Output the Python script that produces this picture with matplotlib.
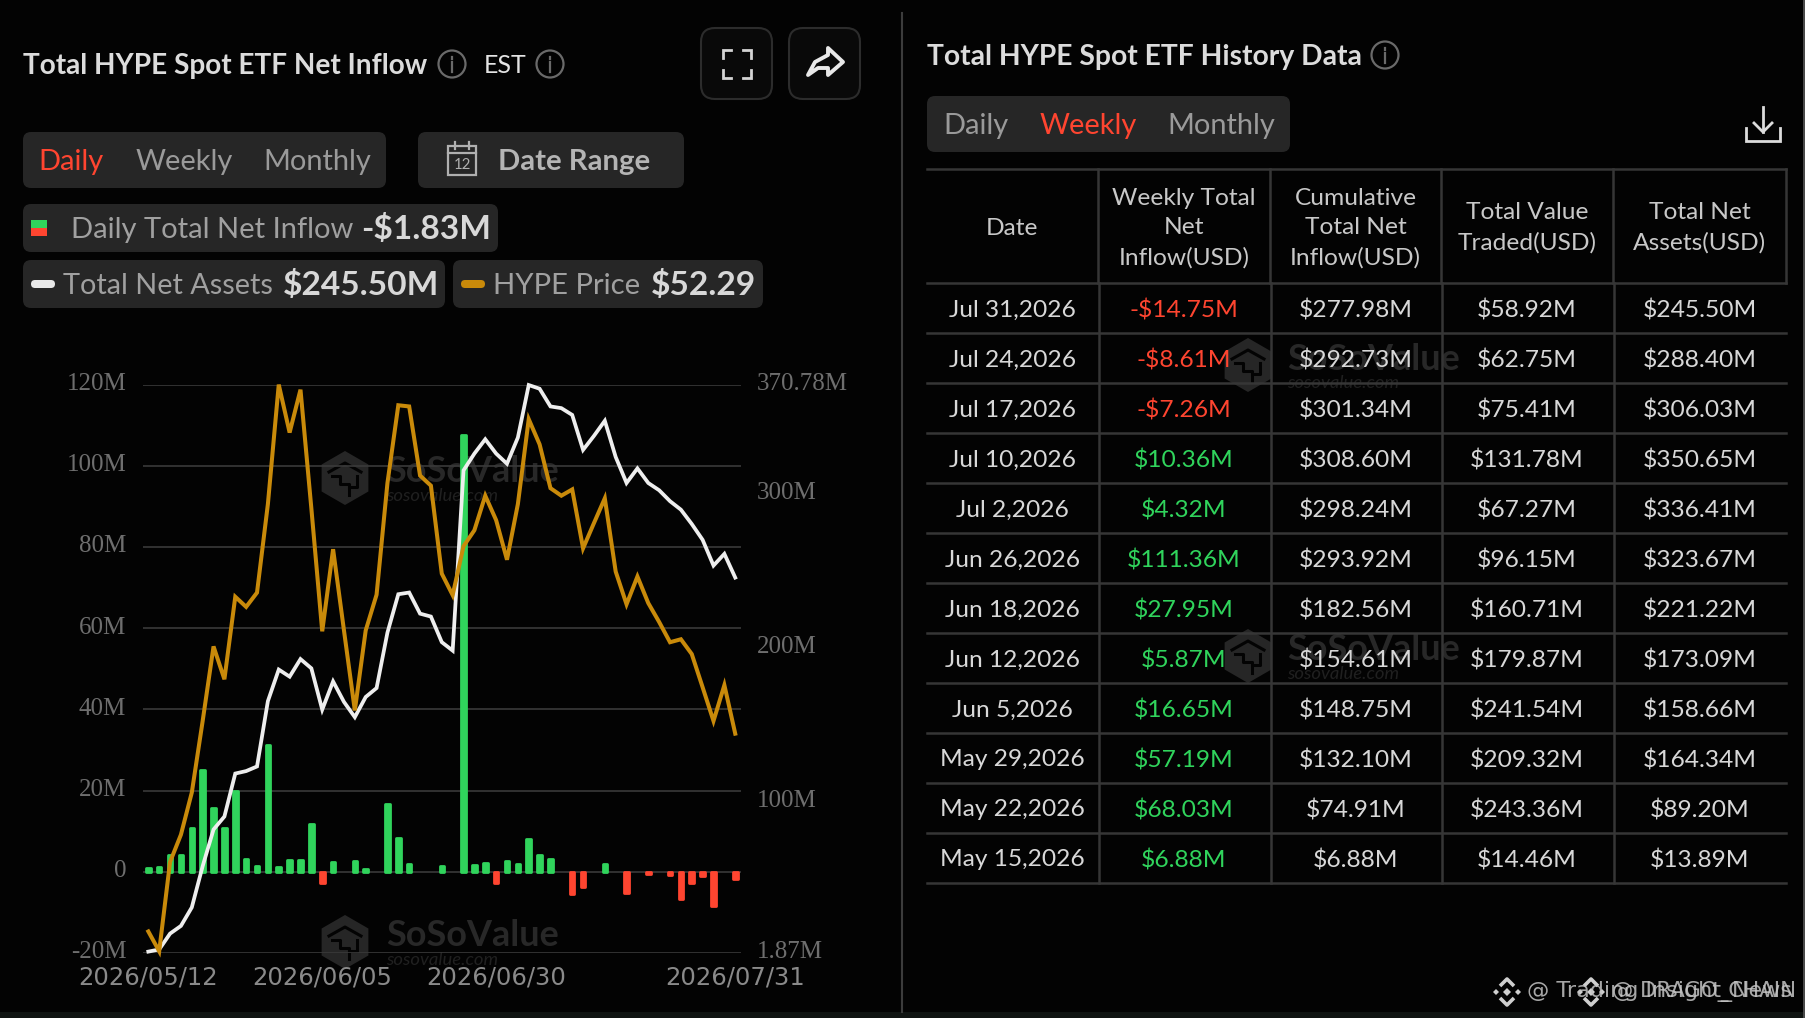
#!/usr/bin/env python3
"""HYPE spot ETF dashboard: net inflow chart plus weekly history table."""
import numpy as np
import matplotlib
matplotlib.use('Agg')
import matplotlib.pyplot as plt
from matplotlib.patches import FancyBboxPatch, Circle, Rectangle, RegularPolygon, Polygon
from matplotlib.transforms import ScaledTranslation

W, H = 1805, 1018
BG = '#030303'
PILL = '#262626'
GRID = '#3a3a3a'
GREEN = '#30d45c'
RED = '#ff4530'
ORANGE = '#c98a0a'

# ── chart data ──
net_inflow = [1.0, 1.2, 4.1, 4.2, 10.7, 25.0, 15.8, 10.7, 20.0, 3.2, 1.5, 31.1, 1.1, 3.0, 2.9, 11.8, -2.8, 2.3, 0,
              2.7, 0.6, 0, 16.7, 8.3, 1.8, 0, 0, 1.3, 0, 107.5, 1.6, 2.1, -2.8, 2.7, 1.9, 8.1, 4.1, 3.1, 0, -5.5, -3.8,
              0, 1.8, 0, -5.2, 0, -0.6, 0, -0.8, -6.7, -2.7, -1.0, -8.5, 0, -1.83]
net_assets = [2.7, 4.1, 14.4, 19.4, 31.4, 58.2, 82.0, 90.4, 118.3, 119.9, 122.9, 165.3, 185.8, 181.2, 192.6, 186.6,
              159.8, 178.1, 164.8, 154.9, 168.0, 173.8, 209.8, 234.7, 235.8, 222.1, 220.2, 203.6, 198.1, 315.1, 326.0,
              335.3, 326.0, 319.4, 336.4, 370.5, 368.1, 356.6, 355.5, 351.1, 328.4, 337.5, 347.3, 323.8, 306.9, 316.4,
              306.9, 302.2, 295.1, 289.6, 280.3, 270.0, 253.3, 260.9, 245.5]
hype_price = [27.67, 25.21, 36.32, 39.72, 44.96, 53.87, 63.15, 59.06, 69.33, 68.07, 69.85, 80.86, 95.74, 89.77, 95.11,
              80.33, 65.03, 75.25, 65.14, 55.18, 65.14, 69.59, 83.48, 93.17, 93.02, 84.42, 83.16, 72.21, 69.54, 75.62,
              77.61, 81.91, 78.87, 73.94, 80.86, 91.44, 88.30, 82.85, 81.91, 82.69, 75.36, 78.50, 81.59, 72.47, 68.39,
              71.85, 68.54, 66.19, 63.67, 64.04, 62.20, 58.06, 53.87, 58.33, 52.29]
left_ticks = [-20, 0, 20, 40, 60, 80, 100, 120]
left_labels = ['-20M', '0', '20M', '40M', '60M', '80M', '100M', '120M']
right_ticks = [1.87, 100, 200, 300, 370.78]
right_labels = ['1.87M', '100M', '200M', '300M', '370.78M']
date_ticks = [0, 16, 32, 54]
date_labels = ['2026/05/12', '2026/06/05', '2026/06/30', '2026/07/31']

# ── table data ──
headers = ['Date', 'Weekly Total\nNet\nInflow(USD)', 'Cumulative\nTotal Net\nInflow(USD)',
           'Total Value\nTraded(USD)', 'Total Net\nAssets(USD)']
week_dates = ['Jul 31,2026', 'Jul 24,2026', 'Jul 17,2026', 'Jul 10,2026', 'Jul 2,2026', 'Jun 26,2026',
              'Jun 18,2026', 'Jun 12,2026', 'Jun 5,2026', 'May 29,2026', 'May 22,2026', 'May 15,2026']
week_inflow = ['-$14.75M', '-$8.61M', '-$7.26M', '$10.36M', '$4.32M', '$111.36M',
               '$27.95M', '$5.87M', '$16.65M', '$57.19M', '$68.03M', '$6.88M']
week_cum = ['$277.98M', '$292.73M', '$301.34M', '$308.60M', '$298.24M', '$293.92M',
            '$182.56M', '$154.61M', '$148.75M', '$132.10M', '$74.91M', '$6.88M']
week_traded = ['$58.92M', '$62.75M', '$75.41M', '$131.78M', '$67.27M', '$96.15M',
               '$160.71M', '$179.87M', '$241.54M', '$209.32M', '$243.36M', '$14.46M']
week_assets = ['$245.50M', '$288.40M', '$306.03M', '$350.65M', '$336.41M', '$323.67M',
               '$221.22M', '$173.09M', '$158.66M', '$164.34M', '$89.20M', '$13.89M']

PX = 0.72  # font px to pt at dpi 100
plt.rcParams.update({'font.family': ['Lato', 'DejaVu Sans'], 'figure.dpi': 100})

fig = plt.figure(figsize=(W / 100, H / 100), facecolor=BG)

# ── overlay in pixel coords for the dashboard furniture ──
ui = fig.add_axes([0, 0, 1, 1], zorder=0)
ui.set_xlim(0, W)
ui.set_ylim(H, 0)
ui.axis('off')


def txt(x, y, s, px=24, color='#c8c8c8', ha='left', va='center', weight='normal', family=None, **kw):
    return ui.text(x, y + 2, s, fontsize=px * PX, color=color, ha=ha, va=va, fontweight=weight,
                   family=family or ['Lato', 'DejaVu Sans'], **kw)


def pill(x0, y0, x1, y1, fc=PILL, ec='none', r=8, lw=1.5):
    ui.add_patch(FancyBboxPatch((x0 + r, y0 + r), x1 - x0 - 2 * r, y1 - y0 - 2 * r,
                                boxstyle=f'round,pad={r},rounding_size={r}', fc=fc, ec=ec, lw=lw))


def info(x, y, r=13.5):
    ui.add_patch(Circle((x, y), r, fc='none', ec='#6a6a6a', lw=1.6))
    ui.plot([x, x], [y - 2, y + 8], color='#6a6a6a', lw=1.6)
    ui.plot([x, x], [y - 7, y - 5], color='#6a6a6a', lw=1.6)


def soso_mark(cx, cy, tx, big):
    c = '#262626'
    ui.add_patch(RegularPolygon((cx, cy), 6, radius=27, fc=c, ec='none', zorder=0.5))
    ui.plot([cx - 16, cx, cx + 16], [cy - 6, cy - 15, cy - 6], color=BG, lw=2.2, zorder=0.6)
    ui.plot([cx - 13, cx - 5, cx - 5, cx + 4, cx + 4], [cy - 2, cy - 2, cy + 6, cy + 6, cy + 17],
            color=BG, lw=2.2, zorder=0.6)
    ui.plot([cx + 12, cx + 12, cx + 4], [cy - 2, cy + 9, cy + 9], color=BG, lw=2.2, zorder=0.6)
    txt(tx, cy - 8, 'SoSoValue', px=big, color='#282828', weight='bold', zorder=0.5)
    txt(tx, cy + 16, 'sosovalue.com', px=18.5, color='#202020', style='italic', zorder=0.5)


def binance(cx, cy, c='#cfcfcf'):
    for dx, dy, r in [(0, 0, 4), (-11, 0, 3), (11, 0, 3)]:
        ui.add_patch(RegularPolygon((cx + dx, cy + dy), 4, radius=r, fc=c, ec='none'))
    ui.plot([cx - 7, cx, cx + 7], [cy - 6, cy - 13, cy - 6], color=c, lw=2.6, solid_capstyle='butt')
    ui.plot([cx - 7, cx, cx + 7], [cy + 6, cy + 13, cy + 6], color=c, lw=2.6, solid_capstyle='butt')


# edges and separator
ui.add_patch(Rectangle((0, 1012), W, 6, fc='#101412', ec='none'))
ui.add_patch(Rectangle((1803, 0), 2, H, fc='#4a4a4a', ec='none'))
ui.plot([902, 902], [13, 1012], color='#3c3c3c', lw=1.5)

# watermarks
soso_mark(345, 478, 386, 36)
soso_mark(345, 942, 386, 36)
soso_mark(1248, 365, 1287, 36)
soso_mark(1248, 656, 1287, 36)

# left header
txt(23, 64, 'Total HYPE Spot ETF Net Inflow', px=28, color='#dcdcdc', weight='bold')
info(452, 64)
txt(484, 63, 'EST', px=25, color='#e4e4e4')
info(550, 64)
pill(701, 28, 772, 99, fc='#090909', ec='#2c2c2c', r=14)
pill(789, 28, 860, 99, fc='#090909', ec='#2c2c2c', r=14)
for sx, sy in [(-1, -1), (1, -1), (-1, 1), (1, 1)]:
    cx, cy = 737 + sx * 14, 64 + sy * 14
    ui.plot([cx - sx * 8, cx, cx], [cy, cy, cy - sy * 8], color='#d4d4d4', lw=2.0, solid_joinstyle='miter')
ui.add_patch(Polygon([[808, 75], [815, 62], [828, 55], [828, 48], [843, 62], [828, 75], [828, 68], [818, 68]],
                     closed=True, fc='none', ec='#e8e8e8', lw=2.8, joinstyle='round'))

# range pills
pill(23, 132, 386, 188)
txt(38, 160, 'Daily', px=29, color=RED)
txt(136, 160, 'Weekly', px=29, color='#9a9a9a')
txt(263, 160, 'Monthly', px=29, color='#9a9a9a')
pill(418, 132, 684, 188)
ui.add_patch(Rectangle((448, 146), 28, 29, fc='none', ec='#b0b0b0', lw=1.6))
ui.plot([448, 476], [153, 153], color='#b0b0b0', lw=1.6)
ui.plot([455, 455], [142, 149], color='#b0b0b0', lw=1.6)
ui.plot([469, 469], [142, 149], color='#b0b0b0', lw=1.6)
txt(462, 163, '12', px=15, color='#b0b0b0', ha='center')
txt(498, 160, 'Date Range', px=29.3, color='#b4b4b4', weight='bold')

# legend pills
pill(23, 204, 498, 252)
ui.add_patch(Rectangle((31, 220), 16, 8, fc=GREEN, ec='none'))
ui.add_patch(Rectangle((31, 228), 16, 8, fc=RED, ec='none'))
txt(71, 228, 'Daily Total Net Inflow', px=29.1, color='#a0a0a0')
txt(361, 227, '-$1.83M', px=33.5, color='#d8d8d8', weight='bold')
pill(23, 260, 445, 308)
pill(31, 280, 55, 288, fc='#e8e8e8', r=4)
txt(63, 284, 'Total Net Assets', px=28.9, color='#a0a0a0')
txt(283, 283, '$245.50M', px=33.5, color='#d8d8d8', weight='bold')
pill(453, 260, 763, 308)
pill(461, 280, 485, 288, fc=ORANGE, r=4)
txt(493, 284, 'HYPE Price', px=29.3, color='#a0a0a0')
txt(651, 283, '$52.29', px=33.5, color='#d8d8d8', weight='bold')

# right header
txt(927, 55, 'Total HYPE Spot ETF History Data', px=28.2, color='#dcdcdc', weight='bold')
info(1385, 55)
pill(927, 96, 1290, 152)
txt(943, 124, 'Daily', px=29, color='#9a9a9a')
txt(1040, 124, 'Weekly', px=29, color=RED)
txt(1167, 124, 'Monthly', px=29, color='#9a9a9a')
ui.plot([1746, 1746, 1780, 1780], [128, 141, 141, 128], color='#dcdcdc', lw=2, solid_joinstyle='miter')
ui.plot([1763, 1763], [107, 132], color='#dcdcdc', lw=2)
ui.plot([1754, 1763, 1772], [123, 132, 123], color='#dcdcdc', lw=2)

# table
col_x = [927, 1098, 1270, 1441, 1613, 1786]
head_top, head_bot = 169, 283
row_h = 50
LINE = '#363636'
ui.plot([col_x[0], col_x[-1]], [head_top, head_top], color=LINE, lw=1.8)
for x in col_x[1:]:
    ui.plot([x, x], [head_top, head_bot], color=LINE, lw=1.8)
for j, head in enumerate(headers):
    txt((col_x[j] + col_x[j + 1]) / 2, (head_top + head_bot) / 2, head, px=24.5, color='#c8c8c8',
        ha='center', linespacing=1.5, multialignment='center')
n_rows = len(week_dates)
for i in range(n_rows + 1):
    y = head_bot + i * row_h
    ui.plot([col_x[0], col_x[-1]], [y, y], color=LINE, lw=1.8)
for x in col_x[1:-1]:
    ui.plot([x + 1, x + 1], [head_bot, head_bot + n_rows * row_h], color=LINE, lw=1.8)
for i in range(n_rows):
    y = head_bot + (i + 0.5) * row_h
    row = [week_dates[i], week_inflow[i], week_cum[i], week_traded[i], week_assets[i]]
    for j, cell in enumerate(row):
        color = '#d8d8d8'
        if j == 1:
            color = RED if cell.startswith('-') else GREEN
        txt((col_x[j] + col_x[j + 1]) / 2, y, cell, px=24.5, color=color, ha='center')

# repost credits
binance(1507, 992)
txt(1527, 990, '@ Trading Insight_News', px=22.3, color='#c4c4c4', family='DejaVu Sans', alpha=0.85)
binance(1591, 992)
txt(1612, 990, '@ DRAGO_CHAIN', px=21.3, color='#c4c4c4', family='DejaVu Sans', alpha=0.85)

# ── main chart ──
ax_left, ax_right_px, ax_top, ax_bot = 143, 741, 384.6, 952.9
ax = fig.add_axes([ax_left / W, 1 - ax_bot / H, (ax_right_px - ax_left) / W, (ax_bot - ax_top) / H], zorder=2)
ax.patch.set_alpha(0)
x = np.arange(len(net_inflow))
vals = np.array(net_inflow)
bars = ax.bar(x, vals, width=0.42, color=[GREEN if v >= 0 else RED for v in vals],
              edgecolor=[GREEN if v >= 0 else RED for v in vals], linewidth=2.0, zorder=3)
for b, v in zip(bars, vals):
    b.set_joinstyle('round')
    b.set_visible(v != 0)
ax.set_xlim(-0.49, 54.53)
ax.set_ylim(-20, 120)
ax.set_yticks(left_ticks)
ax.set_yticklabels(left_labels, fontsize=25 * PX, color='#6e6e6e', family='Liberation Serif')
ax.set_xticks(date_ticks)
ax.set_xticklabels(date_labels, fontsize=24.2 * PX, color='#8a8a8a', family='DejaVu Sans')
ax.tick_params(axis='both', length=0)
ax.tick_params(axis='y', pad=12)
ax.tick_params(axis='x', pad=9)
ax.grid(axis='y', color=GRID, lw=1.2, zorder=1)
ax.set_axisbelow(True)
for s in ax.spines.values():
    s.set_visible(False)
nudge = ScaledTranslation(0, 3 / 100, fig.dpi_scale_trans)
for t in ax.get_yticklabels():
    t.set_transform(t.get_transform() + nudge)

ax_assets = ax.twinx()
ax_assets.plot(x, net_assets, color='#eeeeee', lw=2.7, zorder=4, clip_on=False, solid_joinstyle='miter')
ax_assets.set_ylim(1.87, 370.78)
ax_assets.set_yticks(right_ticks)
ax_assets.set_yticklabels(right_labels, fontsize=25 * PX, color='#6e6e6e', family='Liberation Serif')
ax_assets.tick_params(axis='y', length=0, pad=11.5)
for s in ax_assets.spines.values():
    s.set_visible(False)
for t in ax_assets.get_yticklabels():
    t.set_transform(t.get_transform() + nudge)

ax_price = ax.twinx()
ax_price.plot(x, hype_price, color=ORANGE, lw=2.9, zorder=5, clip_on=False, solid_joinstyle='miter')
ax_price.set_ylim(25, 95.74)
ax_price.axis('off')

fig.savefig('out.png', dpi=100, facecolor=BG)
plt.close()
